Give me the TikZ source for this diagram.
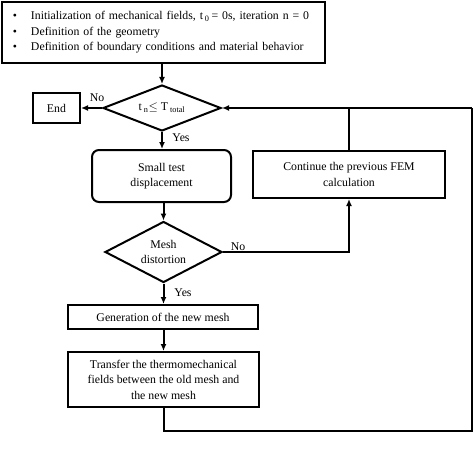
\documentclass[tikz,border=0pt]{standalone}
\usepackage{fontspec}
\setmainfont{Liberation Serif}
\usetikzlibrary{shapes.geometric,arrows.meta}
\begin{document}
\begin{tikzpicture}[x=1pt,y=-1pt,
  every node/.style={font=\fontsize{11.8}{15.5}\selectfont},
  box/.style={draw,line width=2pt,inner sep=2pt,align=center},
  dia/.style={draw,diamond,line width=2pt,inner sep=0pt,align=center},
  lab/.style={inner sep=0pt},
  line/.style={line width=2pt},
  arr/.style={line width=2pt,-{Latex[length=7pt,width=6pt]}}]
\useasboundingbox (0,0) rectangle (474,452);
\node[box,minimum width=323pt,minimum height=61pt,text width=317pt,align=left,inner xsep=3pt] (init) at (163.5,32.5)
  {\makebox[26pt][l]{\hspace{8pt}\textbullet}Initialization of mechanical fields, t\,\textsubscript{0}\,= 0s, iteration n = 0\\
   \makebox[26pt][l]{\hspace{8pt}\textbullet}Definition of the geometry\\
   \makebox[26pt][l]{\hspace{8pt}\textbullet}Definition of boundary conditions and material behavior};
\node[dia,aspect=2.56,minimum width=118pt,minimum height=46pt] (d1) at (162,108) {t\,\textsubscript{n}$\leq$ T\,\textsubscript{total}};
\node[box,minimum width=47pt,minimum height=30pt] (end) at (56.5,108) {End};
\node[box,rounded corners=7pt,minimum width=139pt,minimum height=52pt] (small) at (161.5,176) {Small test\\displacement};
\node[box,minimum width=192pt,minimum height=47pt] (cont) at (349,174.5) {Continue the previous FEM\\calculation};
\node[dia,aspect=1.92,minimum width=117pt,minimum height=61pt] (d2) at (163.5,252) {Mesh\\distortion};
\node[box,minimum width=190pt,minimum height=24pt] (gen) at (163,317) {Generation of the new mesh};
\node[box,minimum width=191pt,minimum height=55pt] (trans) at (163.5,379.5) {Transfer the thermomechanical\\fields between the old mesh and\\the new mesh};
\coordinate (c1) at (472,431);
\coordinate (c2) at (472,108);
\node[lab] (no1) at (97,98) {No};
\node[lab] (yes1) at (181,137.5) {Yes};
\node[lab] (no2) at (238,247) {No};
\node[lab] (yes2) at (183,293) {Yes};
\draw[arr] (init.south -| d1.north) -- (d1.north);
\draw[arr] (d1.west) -- (end.east);
\draw[arr] (d1.south) -- (small.north -| d1.south);
\draw[arr] (small.south -| d2.north) -- (d2.north);
\draw[arr] (d2.east) -| (cont.south);
\draw[arr] (d2.south) -- (gen.north -| d2.south);
\draw[arr] (gen.south -| trans.north) -- (trans.north);
\draw[line] (trans.south) |- (c1) -- (c2);
\draw[arr] (c2) -- (d1.east);
\draw[line] (cont.north) -- (cont.north |- d1.east);
\end{tikzpicture}
\end{document}
